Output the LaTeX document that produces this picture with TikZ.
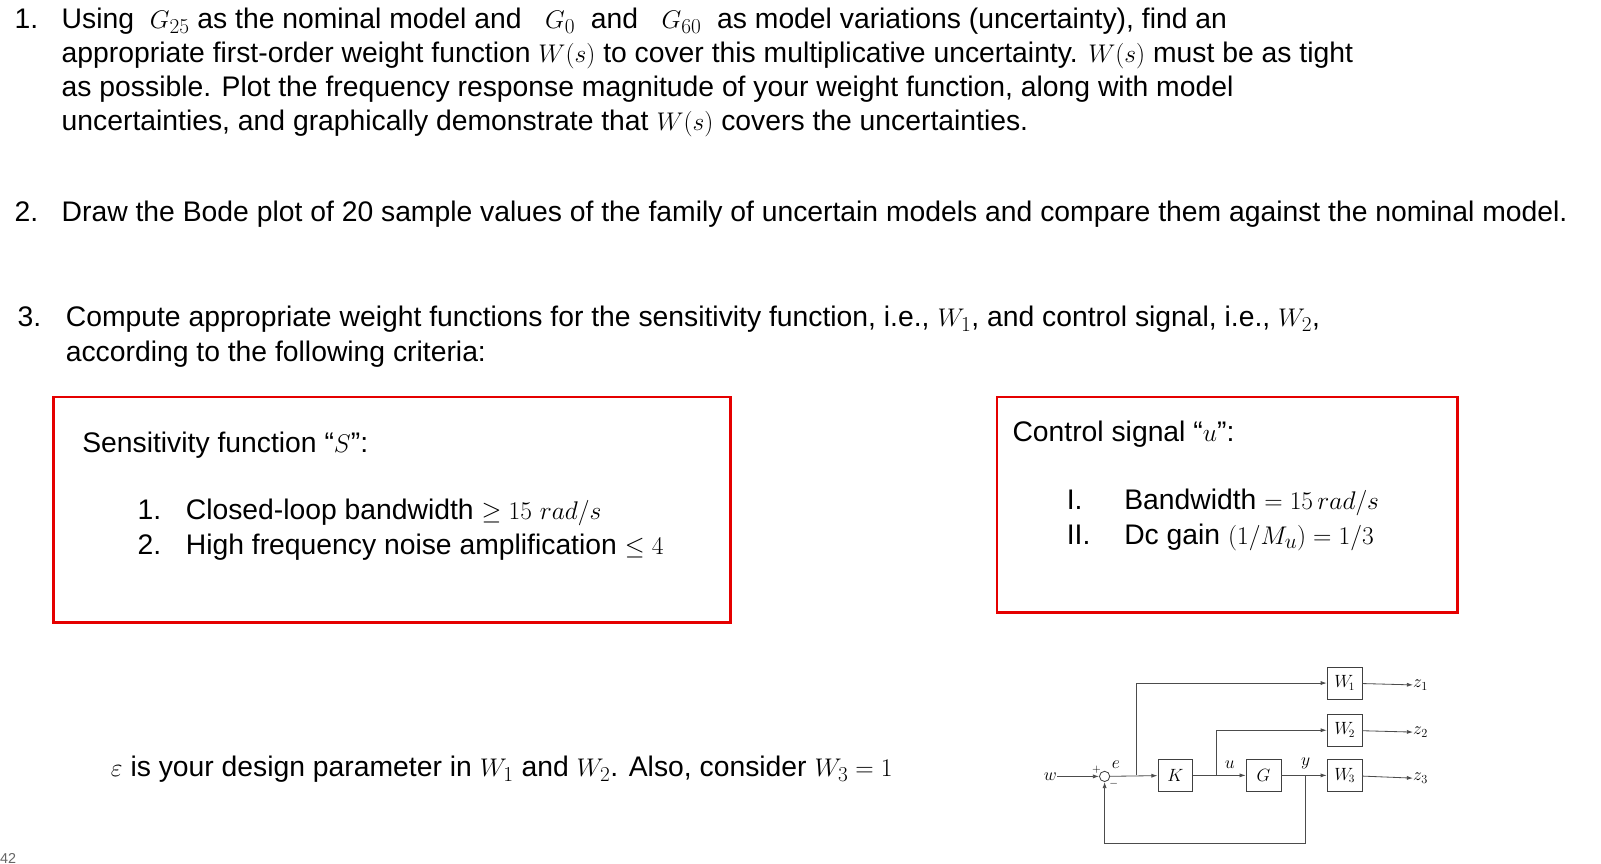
\documentclass[tikz,border=0pt]{standalone}
\usepackage{amsmath,amssymb}
\usepackage{fontspec}
\setmainfont{Liberation Sans}
\usetikzlibrary{arrows.meta}
\begin{document}
\begin{tikzpicture}[x=1pt,y=-1pt,
  txt/.style={anchor=base west,inner sep=0pt,font=\fontsize{27.6}{33}\selectfont},
  redbox/.style={draw=red!90!black,line width=2.5pt},
  blk/.style={draw=black!75,line width=0.8pt,minimum width=34pt,minimum height=31pt,inner sep=0pt,font=\fontsize{16}{16}\selectfont},
  wire/.style={draw=black!70,line width=0.8pt},
  arr/.style={wire,-{Latex[length=6pt,width=4pt]}},
  sml/.style={inner sep=0pt,font=\fontsize{17}{17}\selectfont}]
\useasboundingbox (0,0) rectangle (1561,842);
% question 1
\node[txt] (n1) at (14,28) {1.};
\node[txt] (l1) at (60,28) {Using ~$G_{25}$ as the nominal model and ~~$G_0$~ and ~~$G_{60}$~ as model variations (uncertainty), find an};
\node[txt] (l2) at (60,61) {appropriate first-order weight function $W(s)$ to cover this multiplicative uncertainty. $W(s)$ must be as tight};
\node[txt] (l3) at (60,94) {as possible. Plot the frequency response magnitude of your weight function, along with model};
\node[txt] (l4) at (60,127) {uncertainties, and graphically demonstrate that $W(s)$ covers the uncertainties.};
\node[txt] (n2) at (14,216) {2.};
\node[txt] (l5) at (60,216) {Draw the Bode plot of 20 sample values of the family of uncertain models and compare them against the nominal model.};
\node[txt] (n3) at (17,318) {3.};
\node[txt] (l6) at (64,318) {Compute appropriate weight functions for the sensitivity function, i.e., $W_1$, and control signal, i.e., $W_2$,};
\node[txt] (l7) at (64,352) {according to the following criteria:};
% boxes
\draw[redbox] (52,387) rectangle (712,607);
\node[txt] (s0) at (80,441) {Sensitivity function ``$S$'':};
\node[txt] (s1) at (134,507) {1.};
\node[txt] (s1t) at (181,507) {Closed-loop bandwidth $\geq 15\ rad/s$};
\node[txt] (s2) at (134,541) {2.};
\node[txt] (s2t) at (181,541) {High frequency noise amplification $\leq 4$};
\draw[redbox] (972,387) rectangle (1421,597);
\node[txt] (c0) at (987,430) {Control signal ``$u$'':};
\node[txt] (c1) at (1040,497) {I.};
\node[txt] (c1t) at (1096,497) {Bandwidth $= 15\,rad/s$};
\node[txt] (c2) at (1040,531) {II.};
\node[txt] (c2t) at (1096,531) {Dc gain $(1/M_u) = 1/3$};
\node[txt] (eps) at (108,757) {$\varepsilon$ is your design parameter in $W_1$ and $W_2$. Also, consider $W_3 = 1$};
\node[anchor=base west,inner sep=0pt,font=\fontsize{14}{14}\selectfont,text=black!60] (pg) at (0,842) {42};
% block diagram
\node[sml] (w) at (1024,757) {$w$};
\node[draw=black!75,circle,line width=0.8pt,minimum size=10pt,inner sep=0pt] (sum) at (1077,757) {};
\node[blk] (K) at (1146,756) {$K$};
\node[blk] (G) at (1232,756) {$G$};
\node[blk] (W1) at (1311,666) {$W_{\!1}$};
\node[blk] (W2) at (1311,712) {$W_{\!2}$};
\node[blk] (W3) at (1311,756) {$W_{\!3}$};
\coordinate (b1) at (1108,756);
\coordinate (b2) at (1186,756);
\coordinate (b3) at (1273,756);
\node[sml] (z1) at (1385,668) {$z_1$};
\node[sml] (z2) at (1385,714) {$z_2$};
\node[sml] (z3) at (1385,759) {$z_3$};
\node[sml] (e) at (1088,746) {$e$};
\node[sml] (u) at (1199,746) {$u$};
\node[sml] (y) at (1273,744) {$y$};
\node[inner sep=0pt,font=\fontsize{11}{11}\selectfont] (pl) at (1069,750) {$+$};
\node[inner sep=0pt,font=\fontsize{11}{11}\selectfont] (mi) at (1086,764) {$-$};
\draw[arr] (w) -- (sum);
\draw[arr] (sum) -- (K);
\draw[arr] (K) -- (G);
\draw[arr] (G) -- (W3);
\draw[arr] (b1) |- (W1);
\draw[arr] (b2) |- (W2);
\draw[arr] (W1) -- (z1);
\draw[arr] (W2) -- (z2);
\draw[arr] (W3) -- (z3);
\draw[arr] (b3) -- (1273,822) -| (sum);
\end{tikzpicture}
\end{document}
